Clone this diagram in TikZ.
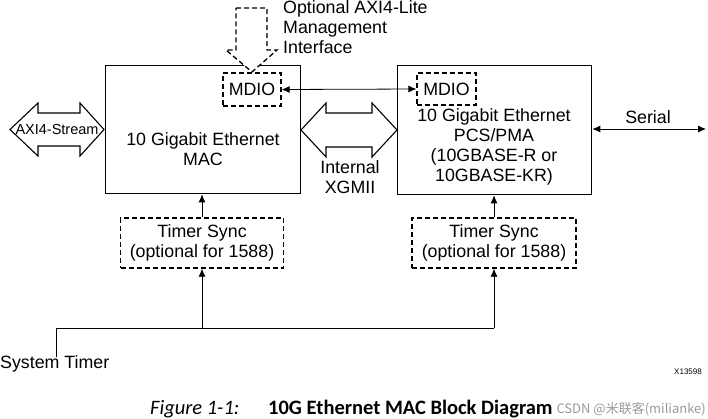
\documentclass[tikz,border=0pt]{standalone}
\usepackage{fontspec}
\setmainfont{Liberation Sans}
\newfontfamily\capfont{Carlito}
\newfontfamily\cjk{Noto Sans CJK SC}
\usetikzlibrary{arrows.meta}
\begin{document}
\begin{tikzpicture}[x=1pt,y=-1pt,
  box/.style={draw,line width=1.3pt},
  dbox/.style={draw,line width=1.3pt,dash pattern=on 5pt off 3pt},
  txt/.style={font=\fontsize{17.8}{20}\selectfont,align=center,inner sep=0pt},
  arr/.style={-{Latex[length=8pt,width=7pt]},line width=0.8pt},
  darr/.style={{Latex[length=8pt,width=7pt]}-{Latex[length=8pt,width=7pt]},line width=0.8pt},
  fat/.style={draw,line width=1.1pt,fill=white}]
\useasboundingbox (0,0) rectangle (708,418);
% main boxes
\node[box,minimum width=195pt,minimum height=128pt,anchor=north west] (mac) at (105,65) {};
\node[box,minimum width=194pt,minimum height=129pt,anchor=north west] (pcs) at (397,65) {};
\node[txt] (mact) at (203,149) {10 Gigabit Ethernet\\MAC};
\node[txt] (pcst) at (494,147) {10 Gigabit Ethernet\\PCS/PMA\\(10GBASE-R or\\10GBASE-KR)};
% MDIO
\node[dbox,txt,minimum width=58pt,minimum height=33pt] (m1) at (252,89.5) {MDIO};
\node[dbox,txt,minimum width=59pt,minimum height=32pt] (m2) at (446.5,89) {MDIO};
\draw[darr] (m1.east) -- (m2.west);
% optional AXI4-Lite dashed block arrow
\draw[line width=1.3pt,dash pattern=on 5pt off 3pt,fill=white]
  (236,8) -- (267,8) -- (267,50) -- (277,50) -- (252,72) -- (226,50) -- (236,50) -- cycle;
\node[txt,align=left,anchor=north west] (opt) at (283,0) {Optional AXI4-Lite\\Management\\Interface};
% AXI4-Stream double arrow
\draw[fat] (10,129.5) -- (38,103) -- (38,113) -- (80,113) -- (80,103) -- (104,129.5) -- (80,156) -- (80,146) -- (38,146) -- (38,156) -- cycle;
\node[inner sep=0pt,font=\fontsize{14.5}{16}\selectfont] (axis) at (57,129.5) {AXI4-Stream};
% XGMII double arrow
\draw[fat] (301,130) -- (326,103) -- (326,113) -- (372,113) -- (372,103) -- (397,130) -- (372,157) -- (372,147) -- (326,147) -- (326,157) -- cycle;
\node[txt] (xg) at (350,177) {Internal\\XGMII};
% serial
\coordinate (ser) at (706,129);
\draw[darr] (pcs.east|-ser) -- (ser);
\node[txt] (sert) at (648,117) {Serial};
% timer sync
\node[dbox,txt,minimum width=163pt,minimum height=50pt] (t1) at (202,243) {Timer Sync\\(optional for 1588)};
\node[dbox,txt,minimum width=164pt,minimum height=50pt] (t2) at (494,243) {Timer Sync\\(optional for 1588)};
\draw[arr] (t1.north) -- (t1.north|-mac.south);
\draw[arr] (t2.north) -- (t2.north|-pcs.south);
\coordinate (st) at (56,357);
\coordinate (j1) at (202,328);
\coordinate (j2) at (494,328);
\draw[line width=0.8pt] (st) -- (56,328) -- (j2);
\draw[arr] (j1) -- (t1.south);
\draw[arr] (j2) -- (t2.south);
\node[txt,anchor=west] (stt) at (0,364) {System Timer};
\node[inner sep=0pt,font=\fontsize{8}{9}\selectfont] (xid) at (688,372) {X13598};
% caption
\node[inner sep=0pt,anchor=base west,font=\capfont\itshape\fontsize{20.5}{24}\selectfont] (fig) at (150,414) {Figure 1-1:};
\node[inner sep=0pt,anchor=base west,font=\capfont\bfseries\fontsize{20.5}{24}\selectfont] (capt) at (268,414) {10G Ethernet MAC Block Diagram};
\node[inner sep=0pt,anchor=base east,text=black!40,font=\cjk\fontsize{13}{15}\selectfont] (wm) at (706,413) {CSDN @米联客(milianke)};
\end{tikzpicture}
\end{document}
